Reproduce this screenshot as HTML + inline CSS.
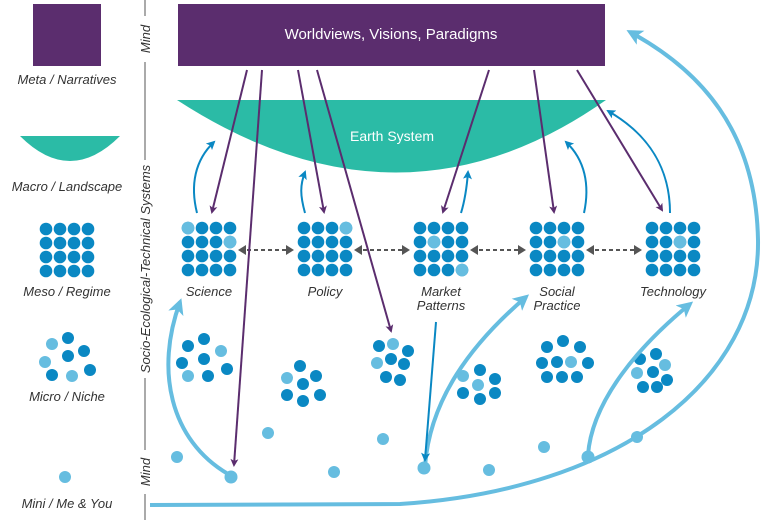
<!DOCTYPE html>
<html><head><meta charset="utf-8"><style>
html,body{margin:0;padding:0;background:#fff}
svg{display:block}
text{font-family:"Liberation Sans",sans-serif}
.it{font-style:italic;font-size:13px;fill:#333}
</style></head><body>
<svg width="768" height="532" viewBox="0 0 768 532" xmlns="http://www.w3.org/2000/svg">
<defs>
<marker id="pa" markerWidth="8" markerHeight="8" refX="6" refY="4" orient="auto" markerUnits="userSpaceOnUse"><path d="M0,0 L8,4 L0,8 L2,4z" fill="#5b2d6e"/></marker>
<marker id="ba" markerWidth="9" markerHeight="9" refX="7" refY="4.5" orient="auto" markerUnits="userSpaceOnUse"><path d="M0,0 L9,4.5 L0,9 L2,4.5z" fill="#0a88c3"/></marker>
<marker id="la" markerWidth="16" markerHeight="16" refX="12" refY="8" orient="auto" markerUnits="userSpaceOnUse"><path d="M0,0 L16,8 L0,16 L4,8z" fill="#66bde0"/></marker>
<marker id="ga" markerWidth="8" markerHeight="10" refX="6" refY="5" orient="auto-start-reverse" markerUnits="userSpaceOnUse"><path d="M0,0 L8,5 L0,10z" fill="#555"/></marker>
<g id="g1" fill="#0a88c3">
<circle cx="0" cy="0" r="6.3"/><circle cx="14" cy="0" r="6.3"/><circle cx="28" cy="0" r="6.3"/><circle cx="42" cy="0" r="6.3"/>
<circle cx="0" cy="14" r="6.3"/><circle cx="14" cy="14" r="6.3"/><circle cx="28" cy="14" r="6.3"/><circle cx="42" cy="14" r="6.3"/>
<circle cx="0" cy="28" r="6.3"/><circle cx="14" cy="28" r="6.3"/><circle cx="28" cy="28" r="6.3"/><circle cx="42" cy="28" r="6.3"/>
<circle cx="0" cy="42" r="6.3"/><circle cx="14" cy="42" r="6.3"/><circle cx="28" cy="42" r="6.3"/><circle cx="42" cy="42" r="6.3"/>
</g>
</defs>

<!-- legend -->
<rect x="33" y="4" width="68" height="62" fill="#5b2d6e"/>
<text x="67" y="84" class="it" text-anchor="middle">Meta / Narratives</text>
<path d="M20,136 L120,136 Q70,186 20,136Z" fill="#2bbba6"/>
<text x="67" y="191" class="it" text-anchor="middle">Macro / Landscape</text>
<use href="#g1" transform="translate(46,229)"/>
<text x="67" y="296" class="it" text-anchor="middle">Meso / Regime</text>
<g fill="#0a88c3">
<circle cx="68" cy="338" r="6"/><circle cx="84" cy="351" r="6"/><circle cx="68" cy="356" r="6"/><circle cx="52" cy="375" r="6"/><circle cx="90" cy="370" r="6"/>
</g>
<g fill="#66bde0"><circle cx="52" cy="344" r="6"/><circle cx="45" cy="362" r="6"/><circle cx="72" cy="376" r="6"/></g>
<text x="67" y="401" class="it" text-anchor="middle">Micro / Niche</text>
<circle cx="65" cy="477" r="6" fill="#66bde0"/>
<text x="67" y="508" class="it" text-anchor="middle">Mini / Me &amp; You</text>

<!-- vertical axis -->
<g stroke="#aaa" stroke-width="2">
<line x1="145" y1="0" x2="145" y2="16"/><line x1="145" y1="62" x2="145" y2="160"/>
<line x1="145" y1="378" x2="145" y2="450"/><line x1="145" y1="494" x2="145" y2="520"/>
</g>
<text class="it" transform="translate(150,39) rotate(-90)" text-anchor="middle">Mind</text>
<text class="it" transform="translate(150,269) rotate(-90)" text-anchor="middle">Socio-Ecological-Technical Systems</text>
<text class="it" transform="translate(150,472) rotate(-90)" text-anchor="middle">Mind</text>

<!-- top box -->
<rect x="178" y="4" width="427" height="62" fill="#5b2d6e"/>
<text x="391" y="39" text-anchor="middle" fill="#fff" font-size="15">Worldviews, Visions, Paradigms</text>
<path d="M177,100 L606,100 Q400,245 177,100Z" fill="#2bbba6"/>
<text x="392" y="141" text-anchor="middle" fill="#fff" font-size="14">Earth System</text>

<!-- grids -->
<use href="#g1" transform="translate(188,228)"/>
<use href="#g1" transform="translate(304,228)"/>
<use href="#g1" transform="translate(420,228)"/>
<use href="#g1" transform="translate(536,228)"/>
<use href="#g1" transform="translate(652,228)"/>
<g fill="#66bde0">
<circle cx="188" cy="228" r="6.3"/><circle cx="230" cy="242" r="6.3"/>
<circle cx="346" cy="228" r="6.3"/>
<circle cx="434" cy="242" r="6.3"/><circle cx="462" cy="270" r="6.3"/>
<circle cx="564" cy="242" r="6.3"/>
<circle cx="680" cy="242" r="6.3"/>
</g>
<text x="209" y="296" class="it" text-anchor="middle">Science</text>
<text x="325" y="296" class="it" text-anchor="middle">Policy</text>
<text x="441" y="296" class="it" text-anchor="middle">Market</text>
<text x="441" y="310" class="it" text-anchor="middle">Patterns</text>
<text x="557" y="296" class="it" text-anchor="middle">Social</text>
<text x="557" y="310" class="it" text-anchor="middle">Practice</text>
<text x="673" y="296" class="it" text-anchor="middle">Technology</text>

<!-- dotted double arrows -->
<g stroke="#555" stroke-width="2" stroke-dasharray="4,3" marker-start="url(#ga)" marker-end="url(#ga)">
<line x1="240" y1="250" x2="292" y2="250"/><line x1="356" y1="250" x2="408" y2="250"/>
<line x1="472" y1="250" x2="524" y2="250"/><line x1="588" y1="250" x2="640" y2="250"/>
</g>

<!-- micro clusters -->
<g fill="#0a88c3">
<circle cx="188" cy="346" r="6"/><circle cx="204" cy="339" r="6"/><circle cx="182" cy="363" r="6"/><circle cx="204" cy="359" r="6"/><circle cx="227" cy="369" r="6"/><circle cx="208" cy="376" r="6"/>
<circle cx="300" cy="366" r="6"/><circle cx="316" cy="376" r="6"/><circle cx="303" cy="384" r="6"/><circle cx="287" cy="395" r="6"/><circle cx="320" cy="395" r="6"/><circle cx="303" cy="401" r="6"/>
<circle cx="379" cy="346" r="6"/><circle cx="408" cy="351" r="6"/><circle cx="391" cy="359" r="6"/><circle cx="404" cy="364" r="6"/><circle cx="386" cy="377" r="6"/><circle cx="400" cy="380" r="6"/>
<circle cx="480" cy="370" r="6"/><circle cx="495" cy="379" r="6"/><circle cx="463" cy="393" r="6"/><circle cx="495" cy="393" r="6"/><circle cx="480" cy="399" r="6"/>
<circle cx="563" cy="341" r="6"/><circle cx="547" cy="347" r="6"/><circle cx="580" cy="347" r="6"/><circle cx="542" cy="363" r="6"/><circle cx="557" cy="362" r="6"/><circle cx="588" cy="363" r="6"/><circle cx="547" cy="377" r="6"/><circle cx="562" cy="377" r="6"/><circle cx="577" cy="377" r="6"/>
<circle cx="656" cy="354" r="6"/><circle cx="640" cy="359" r="6"/><circle cx="653" cy="372" r="6"/><circle cx="667" cy="380" r="6"/><circle cx="643" cy="387" r="6"/><circle cx="657" cy="387" r="6"/>
</g>
<g fill="#66bde0">
<circle cx="221" cy="351" r="6"/><circle cx="188" cy="376" r="6"/>
<circle cx="287" cy="378" r="6"/>
<circle cx="393" cy="344" r="6"/><circle cx="377" cy="363" r="6"/>
<circle cx="463" cy="376" r="6"/><circle cx="478" cy="385" r="6"/>
<circle cx="571" cy="362" r="6"/>
<circle cx="665" cy="365" r="6"/><circle cx="637" cy="373" r="6"/>
</g>

<!-- mini dots -->
<g fill="#66bde0">
<circle cx="177" cy="457" r="6"/><circle cx="231" cy="477" r="6.5"/><circle cx="268" cy="433" r="6"/><circle cx="334" cy="472" r="6"/>
<circle cx="383" cy="439" r="6"/><circle cx="424" cy="468" r="6.5"/><circle cx="489" cy="470" r="6"/><circle cx="544" cy="447" r="6"/>
<circle cx="588" cy="457" r="6.5"/><circle cx="637" cy="437" r="6"/>
</g>

<!-- light blue big arrows -->
<g fill="none" stroke="#66bde0" stroke-width="4" marker-end="url(#la)">
<path d="M228,474 C170,440 155,370 180,302"/>
<path d="M425,466 C430,400 470,345 526,297"/>
<path d="M588,455 C592,400 640,345 690,304"/>
<path d="M150,505 L400,504 C620,490 760,380 758,240 C756,130 700,70 630,32"/>
</g>

<!-- blue arrows up to earth -->
<g fill="none" stroke="#0a88c3" stroke-width="2" marker-end="url(#ba)">
<path d="M197,213 C190,185 195,160 214,142"/>
<path d="M305,213 C300,195 300,185 305,172"/>
<path d="M461,213 C465,200 467,185 468,172"/>
<path d="M584,213 C590,185 585,160 566,142"/>
<path d="M670,213 C670,170 650,135 608,111"/>
<path d="M436,322 L425,460"/>
</g>

<!-- purple arrows -->
<g stroke="#5b2d6e" stroke-width="2" marker-end="url(#pa)">
<line x1="247" y1="70" x2="212" y2="212"/>
<line x1="262" y1="70" x2="234" y2="465"/>
<line x1="298" y1="70" x2="324" y2="212"/>
<line x1="317" y1="70" x2="391" y2="331"/>
<line x1="489" y1="70" x2="443" y2="212"/>
<line x1="534" y1="70" x2="554" y2="212"/>
<line x1="577" y1="70" x2="662" y2="210"/>
</g>
</svg>
</body></html>
